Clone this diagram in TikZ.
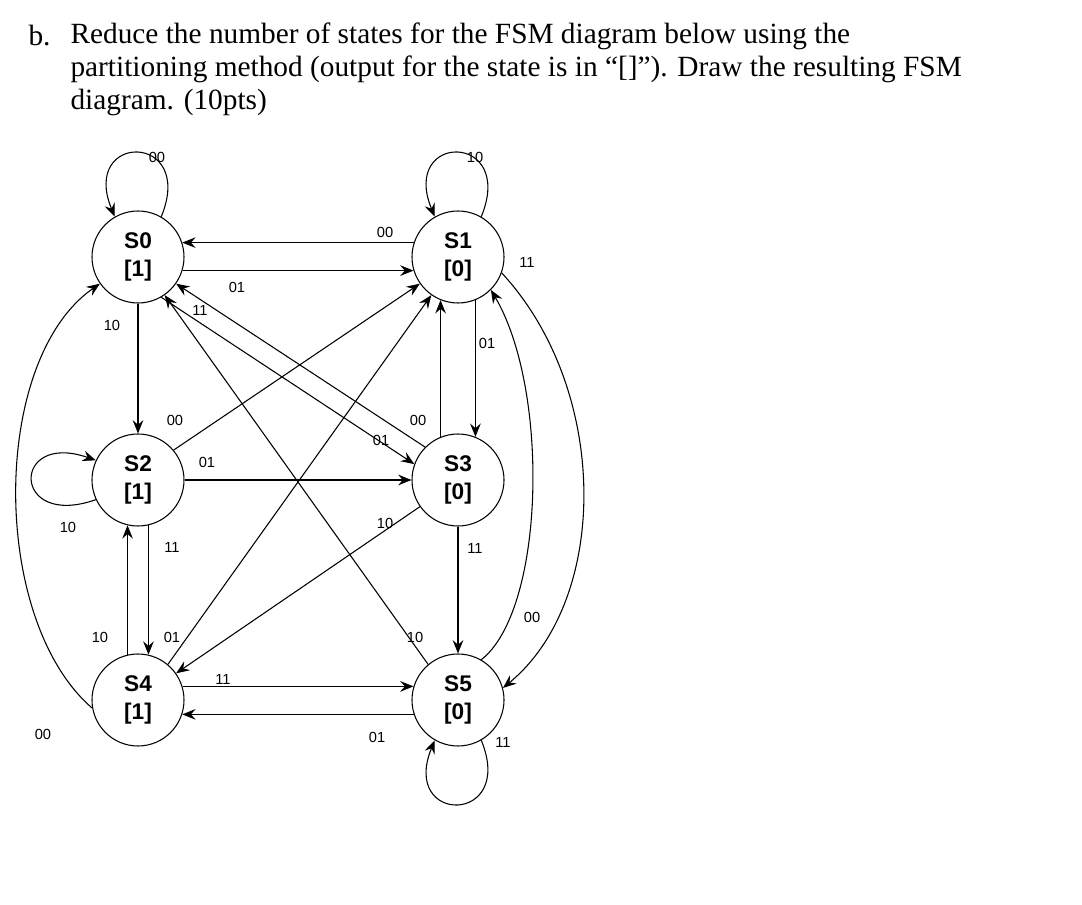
\documentclass[tikz,border=0pt]{standalone}
\usepackage{fontspec}
\setmainfont{Liberation Serif}
\setsansfont{Liberation Sans}
\usetikzlibrary{arrows.meta}
\begin{document}
\begin{tikzpicture}[x=0.75pt,y=-0.75pt,>={Stealth[length=10pt,width=8pt,inset=3.5pt]},line width=0.8pt,
    state/.style={circle,draw,minimum size=69pt,inner sep=0pt,align=center,
        font=\sffamily\bfseries\fontsize{17}{21}\selectfont},
    lbl/.style={font=\sffamily\fontsize{11}{12}\selectfont},
    title/.style={anchor=west,font=\fontsize{22}{26}\selectfont,inner sep=0pt}]
    \useasboundingbox (0,0) rectangle (1082,905);

    % question text
    \node[title] (qb) at (28,36) {b.};
    \node[title] (q1) at (70,36) {Reduce the number of states for the FSM diagram below using the};
    \node[title] (q2) at (70,69) {partitioning method (output for the state is in “[]”). Draw the resulting FSM};
    \node[title] (q3) at (70,102) {diagram. (10pts)};

    % states
    \node[state] (S0) at (138,257) {S0\\{[1]}};
    \node[state] (S1) at (458,257) {S1\\{[0]}};
    \node[state] (S2) at (138,480) {S2\\{[1]}};
    \node[state] (S3) at (458,480) {S3\\{[0]}};
    \node[state] (S4) at (138,700) {S4\\{[1]}};
    \node[state] (S5) at (458,700) {S5\\{[0]}};

    % self loops
    \draw[->] (S0.60) .. controls +(35,-85) and +(-35,-85) .. (S0.120);
    \draw[->] (S1.60) .. controls +(35,-85) and +(-35,-85) .. (S1.120);
    \draw[->] (S2.205) .. controls +(-85,30) and +(-85,-30) .. (S2.155);
    \draw[->] (S5.-60) .. controls +(35,85) and +(-35,85) .. (S5.-120);

    % straight transitions
    \draw[->] (S1.162) -- (S0.18);
    \draw[->] (S0.-17) -- (S1.197);
    \draw[->] (S0.south) -- (S2.north);
    \draw[->] (S2.east) -- (S3.west);
    \draw[->] (S2.-77) -- (S4.77);
    \draw[->] (S4.103) -- (S2.257);
    \draw[->] (S1.-68) -- (S3.68);
    \draw[->] (S3.112) -- (S1.248);
    \draw[->] (S3.south) -- (S5.north);
    \draw[->] (S4.17) -- (S5.163);
    \draw[->] (S5.-162) -- (S4.-18);
    \draw[->] (S0.-60) -- (S3.160);
    \draw[->] (S3.135) -- (S0.-35);
    \draw[->] (S2.40) -- (S1.215);
    \draw[->] (S4.50) -- (S1.235);
    \draw[->] (S5.130) -- (S0.-55);
    \draw[->] (S3.-145) -- (S4.35);

    % curved transitions
    \draw[->] (S1.-20) .. controls (610,390) and (610,600) .. (S5.15);
    \draw[->] (S5.60) .. controls (545,610) and (550,390) .. (S1.-45);
    \draw[->] (S4.190) .. controls (-10,620) and (-10,360) .. (S0.215);

    % labels
    \foreach \x/\y/\t in {157/157/00, 475/157/10, 385/232/00, 527/262/11,
        237/287/01, 200/310/11, 112/325/10, 487/343/01, 175/420/00, 418/420/00,
        381/440/01, 207/462/01, 68/527/10, 385/523/10, 172/547/11, 475/548/11,
        532/617/00, 100/637/10, 172/637/01, 415/637/10, 223/679/11, 43/734/00,
        377/737/01, 503/742/11}
        \node[lbl] at (\x,\y) {\t};
\end{tikzpicture}
\end{document}
